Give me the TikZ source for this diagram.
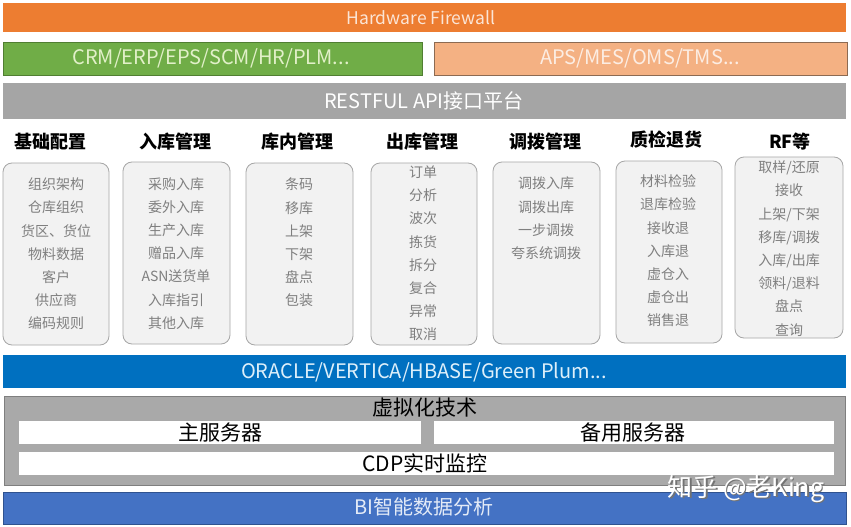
\documentclass[tikz,border=0pt]{standalone}
\usepackage{fontspec}
\setmainfont{Noto Sans CJK SC}
\definecolor{fwOrange}{HTML}{ED7D31}
\definecolor{fwText}{HTML}{FBE5D6}
\definecolor{crmGreen}{HTML}{70AD47}
\definecolor{crmBorder}{HTML}{507E32}
\definecolor{crmText}{HTML}{E2F0C9}
\definecolor{apsSalmon}{HTML}{F4B183}
\definecolor{apsBorder}{HTML}{8C6A52}
\definecolor{apsText}{HTML}{FCEDE3}
\definecolor{apiGray}{HTML}{A5A5A5}
\definecolor{dbBlue}{HTML}{0070C0}
\definecolor{dbText}{HTML}{DDEFFA}
\definecolor{virtGray}{HTML}{A9A9A9}
\definecolor{virtBorder}{HTML}{7F7F7F}
\definecolor{biBlue}{HTML}{4472C4}
\definecolor{biBorder}{HTML}{2F528F}
\definecolor{biText}{HTML}{E4EBF7}
\definecolor{boxFill}{HTML}{F2F2F2}
\definecolor{boxBorder}{HTML}{A6A6A6}
\definecolor{itemText}{HTML}{7F7F7F}
\begin{document}
\begin{tikzpicture}[x=1pt,y=-1pt,
  bartext/.style={inner sep=0pt,anchor=center},
  modbox/.style={draw=boxBorder,fill=boxFill,rounded corners=9pt,line width=0.8pt},
  header/.style={inner sep=0pt,font=\fontsize{18}{20}\bfseries\selectfont,text=black},
  items/.style={inner sep=0pt,align=center,text=itemText,font=\fontsize{14}{23.2}\selectfont},
  virttext/.style={inner sep=0pt,anchor=center,text=black,font=\fontsize{21}{24}\selectfont},
  whitebar/.style={fill=white,draw=none}]
\useasboundingbox (0,0) rectangle (851,527);
\fill[white] (0,0) rectangle (851,527);
% top bars
\fill[fwOrange] (3,3) rectangle (846,32);
\node[bartext,text=fwText,font=\fontsize{17.5}{20}\selectfont] (fw) at (421,18) {Hardware Firewall};
\draw[fill=crmGreen,draw=crmBorder,line width=0.8pt] (3,42) rectangle (422,75);
\node[bartext,text=crmText,font=\fontsize{20}{24}\selectfont] (crm) at (211,58) {CRM/ERP/EPS/SCM/HR/PLM...};
\draw[fill=apsSalmon,draw=apsBorder,line width=0.8pt] (434,42) rectangle (847,75);
\node[bartext,text=apsText,font=\fontsize{20}{24}\selectfont] (aps) at (640,58) {APS/MES/OMS/TMS...};
\fill[apiGray] (3,83) rectangle (846,119);
\node[bartext,text=white,font=\fontsize{20}{24}\selectfont] (api) at (424,101) {RESTFUL API接口平台};
% module columns
\node[header] (h1) at (50,142) {基础配置};
\node[header] (h2) at (175,142) {入库管理};
\node[header] (h3) at (297,142) {库内管理};
\node[header] (h4) at (422,142) {出库管理};
\node[header] (h5) at (545,142) {调拨管理};
\node[header] (h6) at (666,140) {质检退货};
\node[header] (h7) at (790,142) {RF等};
\draw[modbox] (3,163) rectangle (109,345);
\draw[modbox] (123,162) rectangle (230,344);
\draw[modbox] (246,163) rectangle (353,345);
\draw[modbox] (371,163) rectangle (477,345);
\draw[modbox] (493,162) rectangle (600,344);
\draw[modbox] (616,161) rectangle (722,343);
\draw[modbox] (735,157) rectangle (843,338);
\node[items] (c1) at (56,254) {组织架构\\仓库组织\\货区、货位\\物料数据\\客户\\供应商\\编码规则};
\node[items] (c2) at (176,253.5) {采购入库\\委外入库\\生产入库\\赠品入库\\ASN送货单\\入库指引\\其他入库};
\node[items] (c3) at (299,242.5) {条码\\移库\\上架\\下架\\盘点\\包装};
\node[items] (c4) at (423,253.5) {订单\\分析\\波次\\拣货\\拆分\\复合\\异常\\取消};
\node[items] (c5) at (546,218.5) {调拨入库\\调拨出库\\一步调拨\\夸系统调拨};
\node[items] (c6) at (668,251) {材料检验\\退库检验\\接收退\\入库退\\虚仓入\\虚仓出\\销售退};
\node[items] (c7) at (789,248.5) {取样/还原\\接收\\上架/下架\\移库/调拨\\入库/出库\\领料/退料\\盘点\\查询};
% database bar
\fill[dbBlue] (3,355) rectangle (846,388);
\node[bartext,text=dbText,font=\fontsize{20}{24}\selectfont] (db) at (424,372) {ORACLE/VERTICA/HBASE/Green Plum...};
% virtualization
\draw[fill=virtGray,draw=virtBorder,line width=0.8pt] (4,396) rectangle (845,485);
\node[virttext] (virt) at (425,408) {虚拟化技术};
\fill[whitebar] (19,421) rectangle (421,444);
\node[virttext] (main) at (220,433) {主服务器};
\fill[whitebar] (434,421) rectangle (834,444);
\node[virttext] (backup) at (633,433) {备用服务器};
\fill[whitebar] (19,452) rectangle (834,475);
\node[virttext] (cdp) at (425,463) {CDP实时监控};
% BI bar
\draw[fill=biBlue,draw=biBorder,line width=0.8pt] (3,492) rectangle (846,524);
\node[bartext,text=biText,font=\fontsize{20}{24}\selectfont] (bi) at (424,507) {BI智能数据分析};
% watermark
\node[bartext,text=black!55,font=\fontsize{25}{28}\selectfont] (wmshadow) at (747.5,490.5) {知乎 @老King};
\node[bartext,text=white,font=\fontsize{25}{28}\selectfont] (wm) at (746,489) {知乎 @老King};
\end{tikzpicture}
\end{document}
